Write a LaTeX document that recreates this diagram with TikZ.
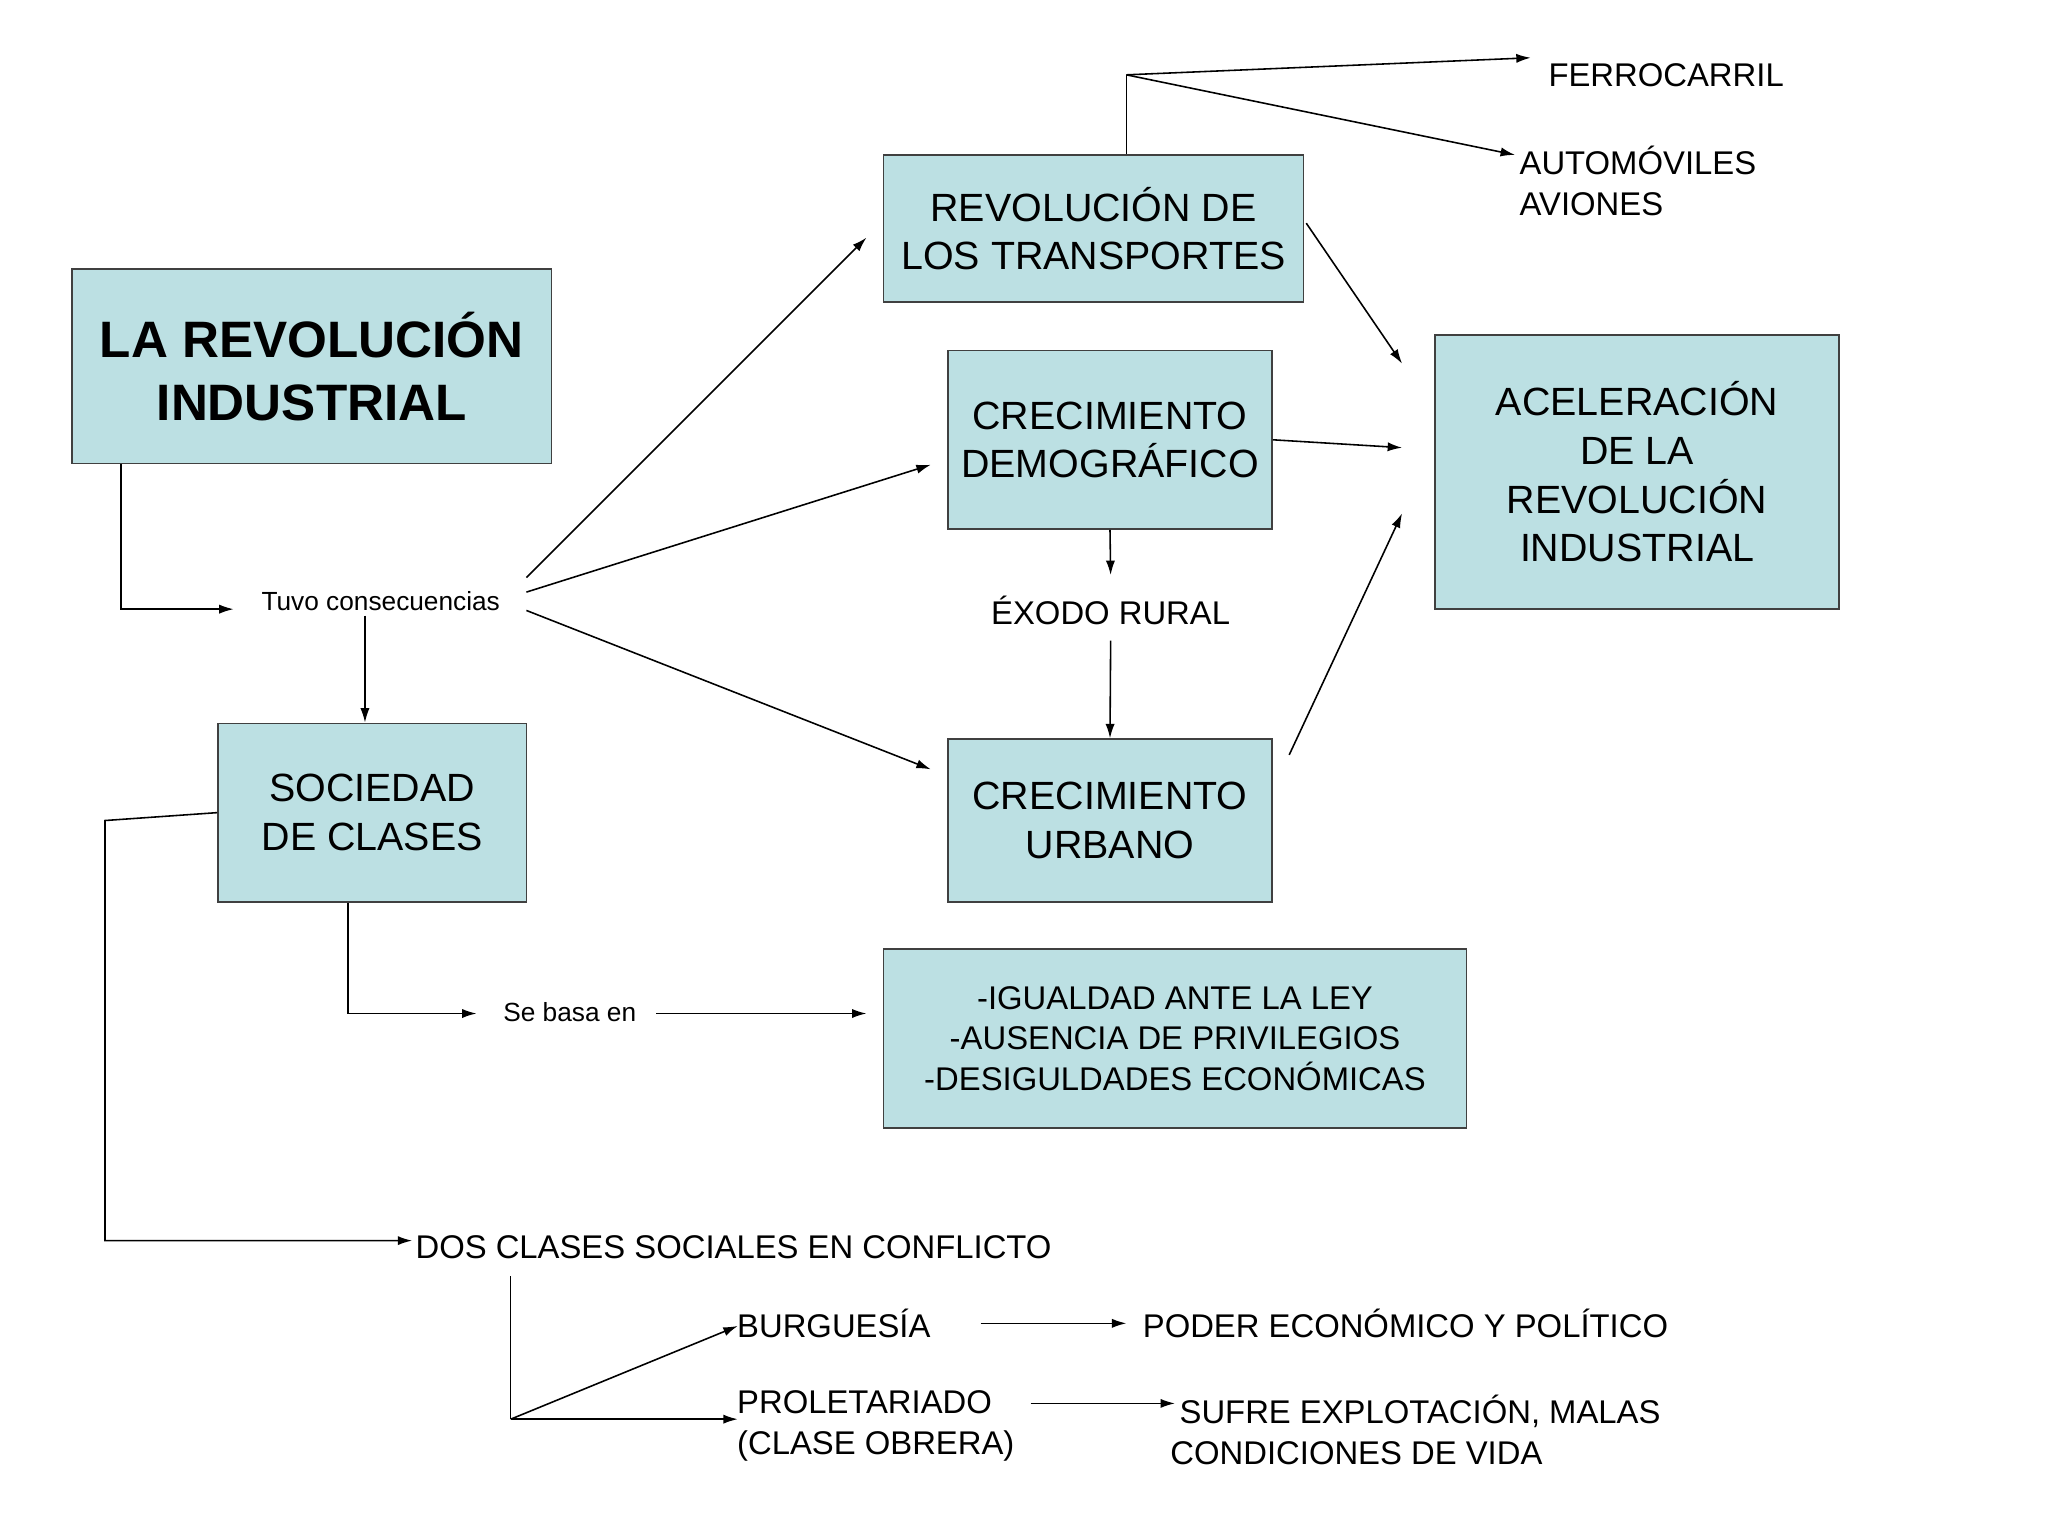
\documentclass[tikz,border=0pt]{standalone}
\usepackage{fontspec}
\setmainfont{Liberation Sans}
\usetikzlibrary{arrows.meta}
\definecolor{boxc}{HTML}{BCE0E3}
\begin{document}
\begin{tikzpicture}[x=1pt,y=-1pt,
 bx/.style={draw=black!75,fill=boxc,line width=1.2pt,align=center},
 ar/.style={-{Latex[length=11pt,width=7pt]},line width=1.2pt},
 ln/.style={line width=1.2pt},
 bigt/.style={font=\fontsize{30}{37}\selectfont},
 midt/.style={font=\fontsize{25}{31}\selectfont,align=left},
 smt/.style={font=\fontsize{20}{24}\selectfont}]
\useasboundingbox (0,0) rectangle (1560,1170);
% boxes
\node[bx,minimum width=365,minimum height=148,font=\fontsize{39}{48}\selectfont\bfseries] (title) at (237.5,279) {LA REVOLUCIÓN\\INDUSTRIAL};
\node[bx,bigt,minimum width=320,minimum height=112] (tra) at (833,174) {REVOLUCIÓN DE\\LOS TRANSPORTES};
\node[bx,bigt,minimum width=247,minimum height=136] (dem) at (845.5,335) {CRECIMIENTO\\DEMOGRÁFICO};
\node[bx,bigt,minimum width=308,minimum height=209] (ace) at (1247,359.5) {ACELERACIÓN\\DE LA\\REVOLUCIÓN\\INDUSTRIAL};
\node[bx,bigt,minimum width=235,minimum height=136] (soc) at (283.5,619) {SOCIEDAD\\DE CLASES};
\node[bx,bigt,minimum width=247,minimum height=124] (urb) at (845.5,625) {CRECIMIENTO\\URBANO};
\node[bx,font=\fontsize{25}{31}\selectfont,minimum width=444,minimum height=136] (igu) at (895,791) {-IGUALDAD ANTE LA LEY\\-AUSENCIA DE PRIVILEGIOS\\-DESIGULDADES ECONÓMICAS};
% texts
\node[smt] (tuvo) at (290,458) {Tuvo consecuencias};
\node[midt] (exo) at (846,465) {ÉXODO RURAL};
\node[midt,anchor=west] (fer) at (1176,57) {FERROCARRIL};
\node[midt,anchor=west] (aut) at (1154,138) {AUTOMÓVILES\\AVIONES};
\node[smt] (sebasa) at (434,771) {Se basa en};
\node[midt,anchor=west] (dos) at (313,950) {DOS CLASES SOCIALES EN CONFLICTO};
\node[midt,anchor=west] (bur) at (558,1008) {BURGUESÍA};
\node[midt,anchor=west] (pod) at (867,1008) {PODER ECONÓMICO Y POLÍTICO};
\node[midt,anchor=west] (pro) at (558,1086) {PROLETARIADO\\(CLASE OBRERA)};
\node[midt,anchor=west] (suf) at (888,1089) {\hspace*{7pt}SUFRE EXPLOTACIÓN, MALAS\\CONDICIONES DE VIDA};
% connectors
\draw[ar] (title.south -| 92,0) |- (178,464);
\draw[ar] (tuvo.south -| 278,0) -- (soc.north -| 278,0);
\draw[ar] (401,440) -- (660,181);
\draw[ar] (401,451) -- (709,354);
\draw[ar] (401,465) -- (709,586);
\coordinate (tj) at (858,57);
\draw[ln] (tra.north -| tj) -- (tj);
\draw[ar] (tj) -- (1166,44);
\draw[ar] (tj) -- (1154,118);
\draw[ar] (995,170) -- (1068,277);
\draw[ar] (dem.east) -- (1068,341);
\draw[ar] (982,575) -- (1068,391);
\draw[ar] (dem.south) -- (846,438);
\draw[ar] (846,488) -- (urb.north);
\draw[ar] (soc.south -| 265,0) |- (363,772);
\draw[ar] (500,772) -- (660,772);
\draw[ar] (soc.west) -- (80,625) |- (314,945);
\coordinate (pj) at (389,1081);
\draw[ln] (389,972) -- (pj);
\draw[ar] (pj) -- (562,1081);
\draw[ar] (pj) -- (562,1010);
\draw[ar] (747,1008) -- (858,1008);
\draw[ar] (785,1069) -- (895,1069);
\end{tikzpicture}
\end{document}
